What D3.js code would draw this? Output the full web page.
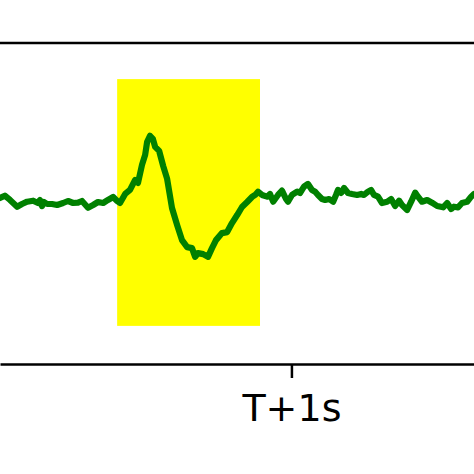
<!DOCTYPE html>
<html>
<head>
<meta charset="utf-8">
<script src="https://cdn.jsdelivr.net/npm/d3@7"></script>
<style>
html,body{margin:0;padding:0;background:#fff;overflow:hidden;}
svg{display:block;}
</style>
</head>
<body>
<script>
// Time in ms relative to T, amplitude in arbitrary units
const times = [-20,-3,15,40,57,75,96,113,120,127,134,145,162,180,201,218,236,253,267,288,306,323,341,358,376,390,400,418,435,453,463,477,488,495,505,515,523,537,551,565,582,600,617,635,652,663,673,691,708,722,736,757,775,792,810,827,845,862,873,883,897,915,925,936,953,967,981,988,1002,1020,1030,1044,1058,1072,1083,1093,1107,1118,1132,1146,1156,1163,1174,1184,1198,1212,1230,1244,1254,1268,1279,1289,1303,1317,1335,1349,1363,1377,1387,1405,1419,1433,1443,1457,1475,1492,1510,1531,1545,1559,1569,1583,1597,1615,1629,1639];
const values = [2.75,3.9,1.75,-1.6,-0.25,0.9,1.4,0.25,1.75,-1.25,0.75,-0.25,-0.25,-0.75,0.25,1.25,0.25,0.4,1.25,-2.1,-0.75,0.75,0.25,1.75,3.25,1.25,0.25,4.75,6.75,11.75,10.25,19.25,24.25,30.75,33.75,32.25,28.25,26.25,18.75,12.25,-2.25,-10.75,-18.25,-21.75,-22.25,-26.6,-24.75,-25.25,-26.6,-22.25,-18.25,-14.75,-14.25,-9.75,-5.75,-1.75,0.75,3.25,4.25,5.9,4.25,3.4,4.75,0.9,4.25,6.4,2.25,0.9,4.25,5.9,5.25,8.4,9.75,6.75,5.9,4.25,2.25,1.75,2.25,0.9,4.25,6.75,5.25,7.75,5.25,4.75,4.25,4.75,4.25,5.9,6.75,4.25,3.4,0.25,0.9,2.25,-1.25,1.4,-0.75,-3.25,0.9,5.4,3.4,0.9,1.75,0.4,-1.25,-1.9,0.25,-2.75,-1.6,-1.9,0.25,0.9,3.4,4.75];
const spanStart = 390, spanEnd = 890;   // highlighted window (ms)
const spanLow = -61, spanHigh = 62;
const tickValues = [1000];
const tickLabels = ["T+1s"];

const W = 474, H = 474;
const svg = d3.select("body").append("svg").attr("width", W).attr("height", H);

const x = d3.scaleLinear().domain([-20, 1639]).range([0, 474]);
const y = d3.scaleLinear().domain([-80, 80]).range([364, 43]);

svg.append("rect")
  .attr("x", x(spanStart)).attr("y", y(spanHigh))
  .attr("width", x(spanEnd) - x(spanStart))
  .attr("height", y(spanLow) - y(spanHigh))
  .attr("fill", "#ffff00");

const pts = times.map((t, i) => [t, values[i]]);
svg.append("path")
  .datum(pts)
  .attr("fill", "none")
  .attr("stroke", "#008000")
  .attr("stroke-width", 6.2)
  .attr("stroke-linejoin", "round")
  .attr("stroke-linecap", "round")
  .attr("d", d3.line().x(d => x(d[0])).y(d => y(d[1])));

// top spine
svg.append("line")
  .attr("x1", 0).attr("x2", W)
  .attr("y1", y(80)).attr("y2", y(80))
  .attr("stroke", "#000").attr("stroke-width", 2.5);

// bottom axis
const axis = d3.axisBottom(x)
  .tickValues(tickValues)
  .tickFormat((d, i) => tickLabels[i])
  .tickSize(14)
  .tickSizeOuter(0)
  .tickPadding(16);
const g = svg.append("g").attr("transform", `translate(0,${y(-80)})`).call(axis);
g.select(".domain").attr("stroke", "#000").attr("stroke-width", 2.5);
g.selectAll(".tick line").attr("stroke", "#000").attr("stroke-width", 2.5);
g.selectAll(".tick text")
  .attr("fill", "#000")
  .style("font-family", "'DejaVu Sans', sans-serif")
  .style("font-size", "38px");
</script>
</body>
</html>
